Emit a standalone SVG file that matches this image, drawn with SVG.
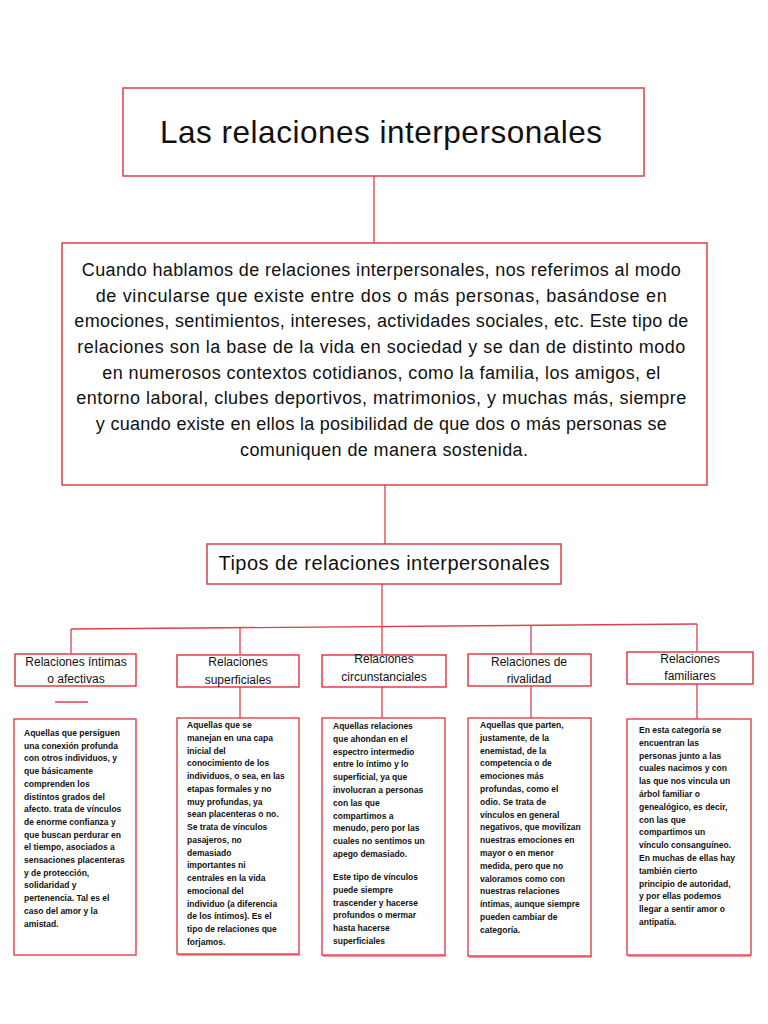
<svg xmlns="http://www.w3.org/2000/svg" width="768" height="1024" viewBox="0 0 768 1024">
<style>
.box{fill:#fff;stroke:#e0303a;stroke-width:1.4}
.tbox{fill:#fff;stroke:#e0404a;stroke-width:1.4}
.shadow{fill:none;stroke:#f29a9e;stroke-width:2}
.con{fill:none;stroke:#e0404a;stroke-width:1.3}
.t{font-family:"Liberation Sans",Arial,sans-serif;fill:#111}
.title{font-size:31.5px}
.desc{font-size:18px}
.tipos{font-size:20px}
.hdr{font-size:12px;text-anchor:middle}
.sm{font-size:8.5px;font-weight:bold}
</style>
<rect width="768" height="1024" fill="#fff"/>
<g id="connectors">
<line class="con" x1="374" y1="176" x2="374" y2="243"/>
<line class="con" x1="385" y1="485" x2="385" y2="544" stroke="#e88"/>
<line class="con" x1="382" y1="584" x2="382" y2="654"/>
<line class="con" x1="71" y1="629" x2="697" y2="624"/>
<line class="con" x1="71" y1="629" x2="71" y2="653"/>
<line class="con" x1="240" y1="627.6" x2="240" y2="654"/>
<line class="con" x1="531" y1="625.3" x2="531" y2="653"/>
<line class="con" x1="697" y1="624" x2="697" y2="651"/>
<line class="con" x1="55" y1="702" x2="88" y2="702"/>
<line class="con" x1="240" y1="687" x2="240" y2="718"/>
<line class="con" x1="382" y1="687" x2="382" y2="718"/>
<line class="con" x1="531" y1="686" x2="531" y2="718"/>
<line class="con" x1="697" y1="684" x2="697" y2="719"/>
</g>
<g id="title">
<rect class="box" x="123" y="88" width="521" height="88"/>
<text class="t title" x="381" y="143" text-anchor="middle" textLength="442" lengthAdjust="spacing">Las relaciones interpersonales</text>
</g>
<g id="description">
<rect class="box" x="62" y="243" width="645" height="242"/>
<text class="t desc" text-anchor="middle">
<tspan x="384" y="276" textLength="599">Cuando hablamos de relaciones interpersonales, nos referimos al modo</tspan>
<tspan x="384" y="302" textLength="571">de vincularse que existe entre dos o más personas, basándose en</tspan>
<tspan x="384" y="327" textLength="614">emociones, sentimientos, intereses, actividades sociales, etc. Este tipo de</tspan>
<tspan x="384" y="353" textLength="608">relaciones son la base de la vida en sociedad y se dan de distinto modo</tspan>
<tspan x="384" y="379" textLength="558">en numerosos contextos cotidianos, como la familia, los amigos, el</tspan>
<tspan x="384" y="404" textLength="610">entorno laboral, clubes deportivos, matrimonios, y muchas más, siempre</tspan>
<tspan x="384" y="430" textLength="571">y cuando existe en ellos la posibilidad de que dos o más personas se</tspan>
<tspan x="384" y="456" textLength="288">comuniquen de manera sostenida.</tspan>
</text>
</g>
<g id="tipos">
<rect class="box" x="207" y="544" width="354" height="40"/>
<text class="t tipos" x="384" y="570" text-anchor="middle" textLength="331" lengthAdjust="spacing">Tipos de relaciones interpersonales</text>
</g>
<g id="h1">
<rect class="box" x="15" y="654" width="121" height="32" stroke="#d0202a" stroke-width="2"/>
<text class="t hdr"><tspan x="76" y="666">Relaciones íntimas</tspan><tspan x="76" y="683">o afectivas</tspan></text>
</g>
<g id="h2">
<rect class="box" x="177" y="655" width="122" height="32"/>
<text class="t hdr"><tspan x="238" y="666">Relaciones</tspan><tspan x="238" y="684">superficiales</tspan></text>
</g>
<g id="h3">
<rect class="box" x="322" y="655" width="124" height="32"/>
<text class="t hdr"><tspan x="384" y="663">Relaciones</tspan><tspan x="384" y="681">circunstanciales</tspan></text>
</g>
<g id="h4">
<rect class="box" x="468" y="654" width="123" height="32"/>
<text class="t hdr"><tspan x="529" y="666">Relaciones de</tspan><tspan x="529" y="683">rivalidad</tspan></text>
</g>
<g id="h5">
<rect class="box" x="627" y="652" width="126" height="32"/>
<text class="t hdr"><tspan x="690" y="663">Relaciones</tspan><tspan x="690" y="680">familiares</tspan></text>
</g>
<g id="d1">
<rect class="tbox" x="14" y="719" width="122" height="236" stroke="#d42a30" stroke-width="1.8"/>
<text class="t sm">
<tspan x="24" y="736">Aquellas que persiguen</tspan>
<tspan x="24" dy="12.7">una conexión profunda</tspan>
<tspan x="24" dy="12.7">con otros individuos, y</tspan>
<tspan x="24" dy="12.7">que básicamente</tspan>
<tspan x="24" dy="12.7">comprenden los</tspan>
<tspan x="24" dy="12.7">distintos grados del</tspan>
<tspan x="24" dy="12.7">afecto. trata de vínculos</tspan>
<tspan x="24" dy="12.7">de enorme confianza y</tspan>
<tspan x="24" dy="12.7">que buscan perdurar en</tspan>
<tspan x="24" dy="12.7">el tiempo, asociados a</tspan>
<tspan x="24" dy="12.7">sensaciones placenteras</tspan>
<tspan x="24" dy="12.7">y de protección,</tspan>
<tspan x="24" dy="12.7">solidaridad y</tspan>
<tspan x="24" dy="12.7">pertenencia. Tal es el</tspan>
<tspan x="24" dy="12.7">caso del amor y la</tspan>
<tspan x="24" dy="12.7">amistad.</tspan>
</text>
</g>
<g id="d2">
<line class="shadow" x1="178" y1="955" x2="300" y2="955"/>
<rect class="tbox" x="177" y="718" width="122" height="236"/>
<text class="t sm">
<tspan x="187" y="728">Aquellas que se</tspan>
<tspan x="187" dy="12.75">manejan en una capa</tspan>
<tspan x="187" dy="12.75">inicial del</tspan>
<tspan x="187" dy="12.75">conocimiento de los</tspan>
<tspan x="187" dy="12.75">individuos, o sea, en las</tspan>
<tspan x="187" dy="12.75">etapas formales y no</tspan>
<tspan x="187" dy="12.75">muy profundas, ya</tspan>
<tspan x="187" dy="12.75">sean placenteras o no.</tspan>
<tspan x="187" dy="12.75">Se trata de vínculos</tspan>
<tspan x="187" dy="12.75">pasajeros, no</tspan>
<tspan x="187" dy="12.75">demasiado</tspan>
<tspan x="187" dy="12.75">importantes ni</tspan>
<tspan x="187" dy="12.75">centrales en la vida</tspan>
<tspan x="187" dy="12.75">emocional del</tspan>
<tspan x="187" dy="12.75">individuo (a diferencia</tspan>
<tspan x="187" dy="12.75">de los íntimos). Es el</tspan>
<tspan x="187" dy="12.75">tipo de relaciones que</tspan>
<tspan x="187" dy="12.75">forjamos.</tspan>
</text>
</g>
<g id="d3">
<line class="shadow" x1="323" y1="956" x2="446" y2="956"/>
<rect class="tbox" x="322" y="718" width="123" height="237"/>
<text class="t sm">
<tspan x="333" y="729">Aquellas relaciones</tspan>
<tspan x="333" dy="12.8">que ahondan en el</tspan>
<tspan x="333" dy="12.8">espectro intermedio</tspan>
<tspan x="333" dy="12.8">entre lo íntimo y lo</tspan>
<tspan x="333" dy="12.8">superficial, ya que</tspan>
<tspan x="333" dy="12.8">involucran a personas</tspan>
<tspan x="333" dy="12.8">con las que</tspan>
<tspan x="333" dy="12.8">compartimos a</tspan>
<tspan x="333" dy="12.8">menudo, pero por las</tspan>
<tspan x="333" dy="12.8">cuales no sentimos un</tspan>
<tspan x="333" dy="12.8">apego demasiado.</tspan>
<tspan x="333" y="880">Este tipo de vínculos</tspan>
<tspan x="333" dy="12.8">puede siempre</tspan>
<tspan x="333" dy="12.8">trascender y hacerse</tspan>
<tspan x="333" dy="12.8">profundos o mermar</tspan>
<tspan x="333" dy="12.8">hasta hacerse</tspan>
<tspan x="333" dy="12.8">superficiales</tspan>
</text>
</g>
<g id="d4">
<line class="shadow" x1="469" y1="957" x2="592" y2="957"/>
<rect class="tbox" x="468" y="718" width="123" height="238"/>
<text class="t sm">
<tspan x="480" y="728">Aquellas que parten,</tspan>
<tspan x="480" dy="12.8">justamente, de la</tspan>
<tspan x="480" dy="12.8">enemistad, de la</tspan>
<tspan x="480" dy="12.8">competencia o de</tspan>
<tspan x="480" dy="12.8">emociones más</tspan>
<tspan x="480" dy="12.8">profundas, como el</tspan>
<tspan x="480" dy="12.8">odio. Se trata de</tspan>
<tspan x="480" dy="12.8">vínculos en general</tspan>
<tspan x="480" dy="12.8">negativos, que movilizan</tspan>
<tspan x="480" dy="12.8">nuestras emociones en</tspan>
<tspan x="480" dy="12.8">mayor o en menor</tspan>
<tspan x="480" dy="12.8">medida, pero que no</tspan>
<tspan x="480" dy="12.8">valoramos como con</tspan>
<tspan x="480" dy="12.8">nuestras relaciones</tspan>
<tspan x="480" dy="12.8">íntimas, aunque siempre</tspan>
<tspan x="480" dy="12.8">pueden cambiar de</tspan>
<tspan x="480" dy="12.8">categoría.</tspan>
</text>
</g>
<g id="d5">
<line class="shadow" x1="628" y1="956" x2="751" y2="956"/>
<rect class="tbox" x="627" y="719" width="124" height="236"/>
<text class="t sm">
<tspan x="639" y="733">En esta categoría se</tspan>
<tspan x="639" dy="12.8">encuentran las</tspan>
<tspan x="639" dy="12.8">personas junto a las</tspan>
<tspan x="639" dy="12.8">cuales nacimos y con</tspan>
<tspan x="639" dy="12.8">las que nos vincula un</tspan>
<tspan x="639" dy="12.8">árbol familiar o</tspan>
<tspan x="639" dy="12.8">genealógico, es decir,</tspan>
<tspan x="639" dy="12.8">con las que</tspan>
<tspan x="639" dy="12.8">compartimos un</tspan>
<tspan x="639" dy="12.8">vínculo consanguíneo.</tspan>
<tspan x="639" dy="12.8">En muchas de ellas hay</tspan>
<tspan x="639" dy="12.8">también cierto</tspan>
<tspan x="639" dy="12.8">principio de autoridad,</tspan>
<tspan x="639" dy="12.8">y por ellas podemos</tspan>
<tspan x="639" dy="12.8">llegar a sentir amor o</tspan>
<tspan x="639" dy="12.8">antipatía.</tspan>
</text>
</g>
</svg>
